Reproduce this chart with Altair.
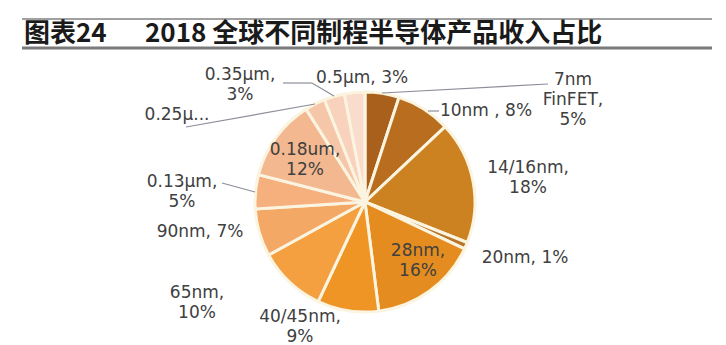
import altair as alt
import pandas as pd

# ---- data ----
categories = ["7nm FinFET", "10nm", "14/16nm", "20nm", "28nm", "40/45nm", "65nm",
              "90nm", "0.13µm", "0.18um", "0.25µm", "0.35µm", "0.5µm"]
shares = [5, 8, 18, 1, 16, 9, 10, 7, 5, 12, 3, 3, 3]
colors = ["#a8601c", "#b86e1e", "#cd8221", "#b8762a", "#e48c1f", "#ef9526", "#f4a040",
          "#f4a866", "#f5b07e", "#f3b890", "#f6c6a8", "#f8d2bc", "#fadccc"]
# label text as shown in the chart ({p} = share)
label_fmt = ["7nm\nFinFET,\n{p}%", "10nm , {p}%", "14/16nm,\n{p}%", "20nm, {p}%",
             "28nm,\n{p}%", "40/45nm,\n{p}%", "65nm,\n{p}%", "90nm, {p}%",
             "0.13µm,\n{p}%", "0.18um,\n{p}%", "0.25µ...", "0.35µm,\n{p}%", "0.5µm, {p}%"]

# ---- layout (pixels; y is the first text line) ----
CX, CY, R = 365, 202, 110
label_pos = [(573, 80), (486, 111), (528, 168), (525, 258), (418, 251), (300, 317),
             (197, 293), (200, 232), (182, 182), (305, 150), (177, 115), (240, 75),
             (362, 78)]
leaders = [(382, 93, 548, 84), (428, 111, 439, 111), (222, 183, 255, 192),
           (186, 127, 315, 104), (283, 83, 312, 83), (312, 83, 334, 96)]

pie_df = pd.DataFrame({"cat": categories, "share": shares, "idx": range(len(categories))})
lab_df = pd.DataFrame({
    "text": [f.format(p=s) for f, s in zip(label_fmt, shares)],
    "lx": [p[0] for p in label_pos],
    "ly": [p[1] for p in label_pos],
})
lead_df = pd.DataFrame(leaders, columns=["x", "y", "x2", "y2"])

pie = alt.Chart(pie_df).mark_arc(outerRadius=R, stroke="#fbf4e0", strokeWidth=3).encode(
    theta=alt.Theta("share:Q", stack=True),
    order=alt.Order("idx:Q"),
    color=alt.Color("cat:N", scale=alt.Scale(domain=categories, range=colors), legend=None),
    x=alt.value(CX),
    y=alt.value(CY),
)

lead = alt.Chart(lead_df).mark_rule(color="#8c8f99", strokeWidth=1.2).encode(
    x=alt.X("x:Q", scale=None), y=alt.Y("y:Q", scale=None),
    x2="x2:Q", y2="y2:Q",
)

labels = alt.Chart(lab_df).mark_text(
    font="DejaVu Sans", fontSize=17, color="#404040", lineBreak="\n",
    lineHeight=20, align="center", baseline="middle",
).encode(
    x=alt.X("lx:Q", scale=None), y=alt.Y("ly:Q", scale=None), text="text:N",
)

one = alt.Data(values=[{}])
top_line = alt.Chart(one).mark_rule(color="#808080", strokeWidth=1.5).encode(
    x=alt.value(22), x2=alt.value(712), y=alt.value(19))
bot_line = alt.Chart(one).mark_rule(color="#7a7a7a", strokeWidth=3).encode(
    x=alt.value(22), x2=alt.value(712), y=alt.value(48))
t1 = alt.Chart(one).mark_text(
    text="图表24", font="Noto Sans CJK SC", fontSize=26, fontWeight="bold",
    color="#1a1a1a", align="left", baseline="middle",
).encode(x=alt.value(24), y=alt.value(34))
t2 = alt.Chart(one).mark_text(
    text="2018 全球不同制程半导体产品收入占比", font="Noto Sans CJK SC", fontSize=26,
    fontWeight="bold", color="#1a1a1a", align="left", baseline="middle",
).encode(x=alt.value(145), y=alt.value(34))

chart = alt.layer(pie, lead, labels, top_line, bot_line, t1, t2).properties(
    width=726, height=345, autosize=alt.AutoSizeParams(type="none"), padding=0,
    background="white",
).configure_view(stroke=None)

chart.save("out.html", embed_options={"renderer": "svg", "actions": False})
